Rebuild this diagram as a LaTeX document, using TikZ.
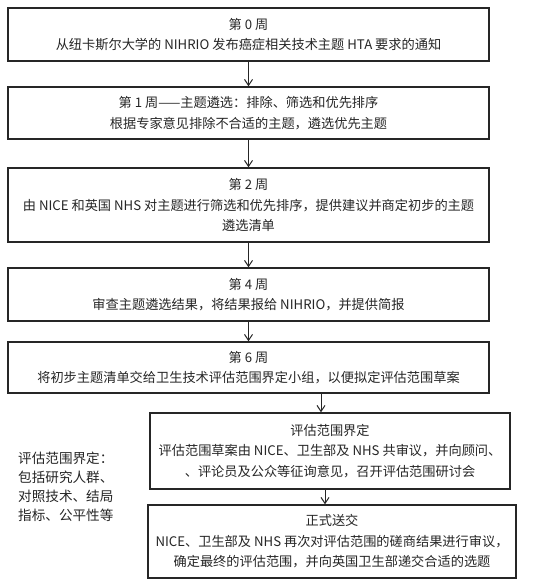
\documentclass[tikz,border=0pt]{standalone}
\usepackage{fontspec}
\setmainfont{Noto Sans CJK SC}
\usetikzlibrary{arrows.meta,calc}
\begin{document}
\begin{tikzpicture}[x=1pt,y=1pt,
  stepbox/.style={draw=black!85,line width=1.4pt,rectangle,inner sep=0pt,align=center,
    font=\fontsize{13.2pt}{20.5pt}\selectfont,text=black!85},
  arr/.style={draw=black!85,line width=1pt,-{Straight Barb[length=6pt,width=8pt,line width=1pt]}},
  note/.style={align=left,inner sep=0pt,font=\fontsize{13.6pt}{19pt}\selectfont,text=black!85}]
\useasboundingbox (0,0) rectangle (535,-585);
\fill[white] (0,0) rectangle (535,-585);
\node[stepbox,minimum width=481,minimum height=53] (b1) at (248.5,-34.5)
  {第 0 周\\从纽卡斯尔大学的 NIHRIO 发布癌症相关技术主题 HTA 要求的通知};
\node[stepbox,minimum width=481,minimum height=52] (b2) at (248.5,-113)
  {第 1 周——主题遴选：排除、筛选和优先排序\\根据专家意见排除不合适的主题，遴选优先主题};
\node[stepbox,minimum width=481,minimum height=74] (b3) at (248.5,-205)
  {第 2 周\\由 NICE 和英国 NHS 对主题进行筛选和优先排序，提供建议并商定初步的主题\\遴选清单};
\node[stepbox,minimum width=481,minimum height=53] (b4) at (248.5,-294.5)
  {第 4 周\\审查主题遴选结果，将结果报给 NIHRIO，并提供简报};
\node[stepbox,minimum width=481,minimum height=51] (b5) at (248.5,-367.5)
  {第 6 周\\将初步主题清单交给卫生技术评估范围界定小组，以便拟定评估范围草案};
\node[stepbox,minimum width=360,minimum height=76] (b6) at (330,-451)
  {评估范围界定\\评估范围草案由 NICE、卫生部及 NHS 共审议，并向顾问、\\、评论员及公众等征询意见，召开评估范围研讨会};
\node[stepbox,minimum width=368,minimum height=73] (b7) at (332,-541.5)
  {正式送交\\NICE、卫生部及 NHS 再次对评估范围的磋商结果进行审议，\\确定最终的评估范围，并向英国卫生部递交合适的选题};
\node[note,anchor=north west] (n1) at (18,-452)
  {评估范围界定：\\包括研究人群、\\对照技术、结局\\指标、公平性等};
\coordinate (x56) at (321,0);
\coordinate (x67) at (325,0);
\draw[arr] (b1.south) -- (b2.north);
\draw[arr] (b2.south) -- (b3.north);
\draw[arr] (b3.south) -- (b4.north);
\draw[arr] (b4.south) -- (b5.north);
\draw[arr] (b5.south -| x56) -- (b6.north -| x56);
\draw[arr] (b6.south -| x67) -- (b7.north -| x67);
\end{tikzpicture}
\end{document}
